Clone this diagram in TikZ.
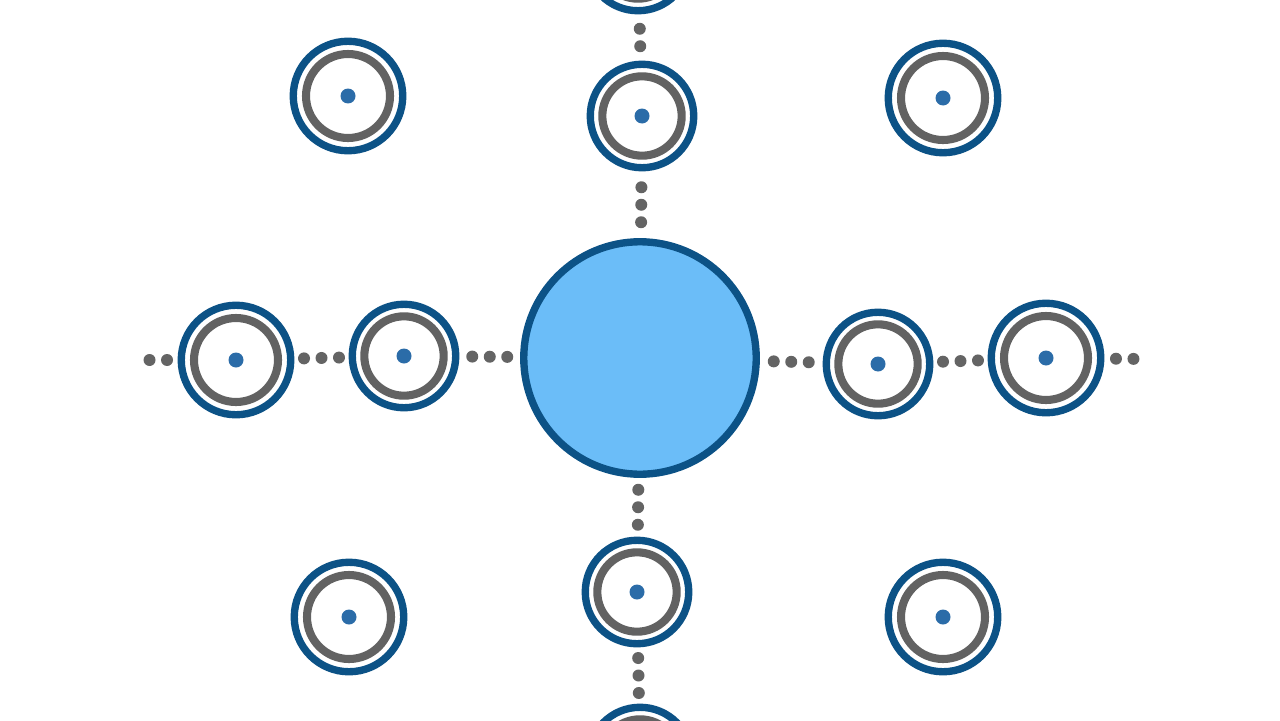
\documentclass[tikz,border=0pt]{standalone}
\usetikzlibrary{decorations.markings}
\definecolor{ringblue}{RGB}{12,82,134}
\definecolor{ringgray}{RGB}{98,98,98}
\definecolor{dotblue}{RGB}{43,108,168}
\definecolor{hubblue}{RGB}{107,189,248}
\definecolor{dotgray}{RGB}{100,100,100}
\tikzset{
  hub/.style={circle, draw=ringblue, line width=4.2pt, fill=hubblue, inner sep=0pt, minimum size=4.65cm},
  ring/.style={circle, draw=ringblue, line width=4.2pt, fill=white, inner sep=0pt, minimum size=#1*2.19cm,
    path picture={
      \draw[ringgray, line width=4.6pt] (path picture bounding box.center) circle (#1*0.84cm);
      \fill[dotblue] (path picture bounding box.center) circle (0.15cm);
    }},
  ring/.default=1,
  dotsthree/.style={postaction={decorate, decoration={markings, mark=at position 0.5 with {
      \fill[dotgray] (-0.35cm,0) circle (0.12cm) (0,0) circle (0.12cm) (0.35cm,0) circle (0.12cm);}}}},
  dotstwo/.style={postaction={decorate, decoration={markings, mark=at position 0.5 with {
      \fill[dotgray] (-0.175cm,0) circle (0.12cm) (0.175cm,0) circle (0.12cm);}}}},
}
\begin{document}
\begin{tikzpicture}[x=0.02cm, y=-0.02cm]
    \useasboundingbox (0,0) rectangle (1280,720);
    \clip (0,0) rectangle (1280,720);
    % centre
    \node[hub] (hub) at (640,358) {};
    % axis rings
    \node[ring=0.945] (ringN2) at (638,-41) {};
    \node[ring=0.945] (ringN1) at (642,116) {};
    \node[ring=0.945] (ringS1) at (637,592) {};
    \node[ring=0.945] (ringS2) at (640,759) {};
    \node[ring] (ringW2) at (236,360) {};
    \node[ring=0.945] (ringW1) at (404,356) {};
    \node[ring=0.945] (ringE1) at (878,364) {};
    \node[ring] (ringE2) at (1046,358) {};
    \coordinate (endW) at (139,360);
    \coordinate (endE) at (1145,359);
    % corner rings
    \node[ring] (ringNW) at (348,96) {};
    \node[ring] (ringNE) at (943,98) {};
    \node[ring] (ringSW) at (349,617) {};
    \node[ring] (ringSE) at (943,617) {};
    % dotted links
    \path[dotstwo] (ringN2) -- (ringN1);
    \path[dotsthree] (ringN1) -- (hub);
    \path[dotsthree] (hub) -- (ringS1);
    \path[dotsthree] (ringS1) -- (ringS2);
    \path[dotstwo] (endW) -- (ringW2);
    \path[dotsthree] (ringW2) -- (ringW1);
    \path[dotsthree] (ringW1) -- (hub);
    \path[dotsthree] (hub) -- (ringE1);
    \path[dotsthree] (ringE1) -- (ringE2);
    \path[dotstwo] (ringE2) -- (endE);
\end{tikzpicture}
\end{document}
